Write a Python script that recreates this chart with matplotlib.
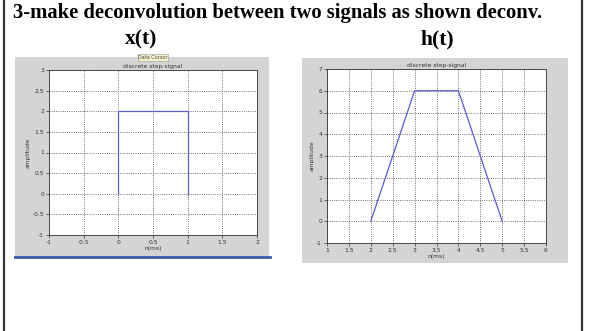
from matplotlib import pyplot as plt
from matplotlib.patches import Rectangle
from matplotlib.lines import Line2D
import numpy as np

W, H = 591, 331

# signal data
x_n = [0, 0, 1, 1]
x_amp = [0, 2, 2, 0]
x_xticks = [-1, -0.5, 0, 0.5, 1, 1.5, 2]
x_yticks = [-1, -0.5, 0, 0.5, 1, 1.5, 2, 2.5, 3]
x_xlabels = ['-1', '-0.5', '0', '0.5', '1', '1.5', '2']
x_ylabels = ['-1', '-0.5', '0', '0.5', '1', '1.5', '2', '2.5', '3']

h_n = [2, 3, 4, 5]
h_amp = [0, 6, 6, 0]
h_xticks = [1, 1.5, 2, 2.5, 3, 3.5, 4, 4.5, 5, 5.5, 6]
h_yticks = [-1, 0, 1, 2, 3, 4, 5, 6, 7]
h_xlabels = ['1', '1.5', '2', '2.5', '3', '3.5', '4', '4.5', '5', '5.5', '6']
h_ylabels = ['-1', '0', '1', '2', '3', '4', '5', '6', '7']


def box(x0, y0, x1, y1):
    # pixel box (top-left origin) -> figure fraction rect
    return [x0 / W, 1 - y1 / H, (x1 - x0) / W, (y1 - y0) / H]


fig = plt.figure(figsize=(W / 100, H / 100), dpi=100)
fig.patch.set_facecolor('white')

# slide border lines
fig.add_artist(Line2D([4 / W, 4 / W], [0, 1], color='#333333', lw=1.6))
fig.add_artist(Line2D([582 / W, 582 / W], [0, 1], color='#333333', lw=1.6))

# gray figure windows
for b in [box(15, 57, 269, 257), box(302, 58, 568, 263)]:
    fig.add_artist(Rectangle((b[0], b[1]), b[2], b[3], transform=fig.transFigure,
                             facecolor='#d4d4d4', edgecolor='none', zorder=0))
fig.add_artist(Line2D([15 / W, 270 / W], [1 - 257 / H, 1 - 257 / H],
                      color='#3d5aa8', lw=2))

fig.text(13 / W, 1 - 13 / H, '3-make deconvolution between two signals as shown deconv.',
         family='Liberation Serif', weight='bold', fontsize=14.9, va='center', ha='left')
fig.text(141 / W, 1 - 39 / H, 'x(t)', family='Liberation Serif', weight='bold',
         fontsize=15.5, va='center', ha='center')
fig.text(437 / W, 1 - 39 / H, 'h(t)', family='Liberation Serif', weight='bold',
         fontsize=15.5, va='center', ha='center')


def draw(rect, n, amp, xt, yt, xl, yl, xlim, ylim):
    ax = fig.add_axes(rect)
    ax.plot(n, amp, color='#5a5ad0', lw=0.9)
    ax.set_xlim(xlim)
    ax.set_ylim(ylim)
    ax.set_xticks(xt)
    ax.set_xticklabels(xl)
    ax.set_yticks(yt)
    ax.set_yticklabels(yl)
    ax.grid(True, linestyle=':', color='#444444', lw=0.6)
    ax.tick_params(labelsize=4.3, length=2, width=0.5, pad=1.5, colors='#333333')
    for s in ax.spines.values():
        s.set_linewidth(0.6)
        s.set_color('#333333')
    ax.set_title('discrete step-signal', fontsize=4.3, pad=1.5, color='#333333')
    ax.set_xlabel('n(ms)', fontsize=4.3, labelpad=0.5, color='#333333')
    ax.set_ylabel('amplitude', fontsize=4.3, labelpad=1, color='#333333')
    return ax


ax1 = draw(box(49, 70, 257, 235), x_n, x_amp, x_xticks, x_yticks, x_xlabels, x_ylabels,
           (-1, 2), (-1, 3))
ax1.text(0.5, 1.075, 'Data Cursor', transform=ax1.transAxes, fontsize=3.5,
         ha='center', va='center', color='#444444',
         bbox=dict(boxstyle='square,pad=0.15', fc='#f4f0c8', ec='#999999', lw=0.4))

ax2 = draw(box(327, 69, 546, 243), h_n, h_amp, h_xticks, h_yticks, h_xlabels, h_ylabels,
           (1, 6), (-1, 7))

fig.savefig('out.png', dpi=100)
